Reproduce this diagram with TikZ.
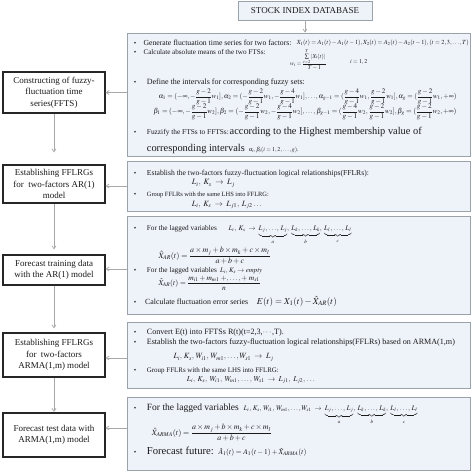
\documentclass[tikz,border=0pt]{standalone}
\usepackage{mathptmx}
\usepackage{amsmath}
\usepackage{fontspec}
\setmainfont{Liberation Serif}
\usepackage{graphicx}
\usetikzlibrary{arrows.meta}
\definecolor{rfill}{HTML}{EEF2F9}
\definecolor{rdraw}{HTML}{9AA2AC}
\definecolor{txtc}{HTML}{1A1A1A}
\definecolor{arrc}{HTML}{A8A8A8}
\newcommand\fitw[2]{\resizebox{#1pt}{!}{#2}}
\newcommand\mfs[2]{{\fontsize{#1}{#1}\selectfont$#2$}}
\tikzset{
  rbox/.style={draw=rdraw, fill=rfill, line width=0.8pt, inner sep=0pt},
  lbox/.style={draw=black!85, fill=white, line width=1.1pt, inner sep=1pt, minimum width=102pt,
     align=center, font=\fontsize{9}{11.3}\selectfont, text=txtc},
  dbbox/.style={draw=rdraw, fill=rfill, line width=0.8pt, minimum width=134pt, minimum height=19pt,
     font=\fontsize{9}{10}\selectfont, text=txtc},
  tx/.style={anchor=base west, inner sep=0pt, font=\fontsize{7}{8}\selectfont, text=txtc},
  mx/.style={anchor=west, inner sep=0pt, text=txtc},
  mb/.style={anchor=base west, inner sep=0pt, text=txtc},
  bu/.style={anchor=base, inner sep=0pt, font=\fontsize{7}{8}\selectfont, text=txtc},
  arr/.style={draw=arrc, line width=0.7pt, -{Straight Barb[length=3pt,width=4pt]}}
}
\begin{document}
\begin{tikzpicture}[x=1pt,y=-1pt]
\useasboundingbox (0,0) rectangle (474,474);
% top database box
\node[dbbox] (db) at (305,10.5) {STOCK INDEX DATABASE};
% right boxes
\node[rbox, minimum width=343pt, minimum height=123pt] (r1) at (298.5,94.5) {};
\node[rbox, minimum width=343pt, minimum height=50pt] (r2) at (298.5,186) {};
\node[rbox, minimum width=343pt, minimum height=98pt] (r3) at (298.5,265) {};
\node[rbox, minimum width=343pt, minimum height=66pt] (r4) at (298.5,355) {};
\node[rbox, minimum width=343pt, minimum height=73pt] (r5) at (298.5,433.5) {};
% left boxes
\node[lbox, minimum height=41pt] (l1) at (54,92.5) {Constructing of fuzzy-\\fluctuation time\\series(FFTS)};
\node[lbox, minimum height=38pt] (l2) at (54,184) {Establishing FFLRGs\\for\ \ two-factors AR(1)\\model};
\node[lbox, minimum height=30pt] (l3) at (54,270) {Forecast training data\\with the AR(1) model};
\node[lbox, minimum height=44pt] (l4) at (54,355) {Establishing FFLRGs\\for\ \ two-factors\\ARMA(1,m) model};
\node[lbox, minimum height=44pt] (l5) at (54,435) {Forecast test data with\\ARMA(1,m) model};
% connectors
\draw[arr] (db.south) -- (r1.north -| db.south);
\draw[arr] (r1.west |- l1.east) -- (l1.east);
\draw[arr] ([yshift=-2pt]r2.west |- l2.east) -- ([yshift=-2pt]l2.east);
\draw[arr] ([yshift=1pt]r3.west |- l3.east) -- ([yshift=1pt]l3.east);
\draw[arr] ([yshift=-3pt]r4.west |- l4.east) -- ([yshift=-3pt]l4.east);
\draw[arr] ([yshift=7pt]r5.west |- l5.east) -- ([yshift=7pt]l5.east);
\draw[arr, shorten >=12pt] (l1.south) -- (l2.north);
\draw[arr, shorten >=5pt] (l2.south) -- (l3.north);
\draw[arr, shorten >=4pt] (l3.south) -- (l4.north);
\draw[arr, shorten >=0.5pt] (l4.south) -- (l5.north);
% ---- box 1 ----
\node[bu] (b11) at (135,45.3) {\textbullet};
\node[tx] (t11) at (143.3,45.3) {\fitw{148}{Generate fluctuation time series for two factors:}};
\node[mx] (f11) at (296.7,43) {\fitw{172}{$X_1(t)=A_1(t)-A_1(t-1),X_2(t)=A_2(t)-A_2(t-1),(t=2,3,\ldots,T)$}};
\node[bu] (b12) at (135,54.3) {\textbullet};
\node[tx] (t12) at (143.3,54.3) {\fitw{122}{Calculate absolute means of the two FTSs:}};
\node[mx] (f12) at (290,60) {\fitw{36}{$w_i=\dfrac{\sum\limits_{t=2}^{T}|X_i(t)|}{T-1}$}};
\node[mx] (f13) at (350,62) {\fitw{17}{$i=1,2$}};
\node[bu] (b13) at (135,84.3) {\textbullet};
\node[tx] (t13) at (146.7,84.3) {\fitw{158}{Define the intervals for corresponding fuzzy sets:}};
\node[mx] (f14) at (158.3,97) {\fitw{298}{$\alpha_1=(-\infty,-\dfrac{g-2}{g-1}w_1],\alpha_2=(-\dfrac{g-2}{g-1}w_1,-\dfrac{g-4}{g-1}w_1],\ldots,\alpha_{g-1}=(\dfrac{g-4}{g-1}w_1,\dfrac{g-2}{g-1}w_1],\alpha_g=(\dfrac{g-2}{g-1}w_1,+\infty)$}};
\node[mx] (f15) at (153.3,112) {\fitw{303}{$\beta_1=(-\infty,-\dfrac{g-2}{g-1}w_2],\beta_2=(-\dfrac{g-2}{g-1}w_2,-\dfrac{g-4}{g-1}w_2],\ldots,\beta_{g-1}=(\dfrac{g-4}{g-1}w_2,\dfrac{g-2}{g-1}w_2],\beta_g=(\dfrac{g-2}{g-1}w_2,+\infty)$}};
\node[bu] (b14) at (135,134.5) {\textbullet};
\node[tx] (t14) at (146.7,134.5) {\fitw{82}{Fuzzify the FTSs to FFTSs:}};
\node[tx] (t15) at (229.5,134.5) {\fitw{192}{according to the Highest membership value of}};
\node[tx] (t16) at (146.7,151.5) {\fitw{98}{corresponding intervals}};
\node[mb] (f16) at (248.5,151.5) {\fitw{50}{$\alpha_i,\beta_i(i=1,2,\ldots,g)$.}};
% ---- box 2 ----
\node[bu] (b21) at (135,175.3) {\textbullet};
\node[tx] (t21) at (146.7,175.3) {\fitw{222}{Establish the two-factors fuzzy-fluctuation logical relationships(FFLRs):}};
\node[mx] (f21) at (191.7,183.5) {\fitw{43}{$L_i,\;K_s\;\rightarrow\;L_j$}};
\node[bu] (b22) at (135,196.5) {\textbullet};
\node[tx] (t22) at (146.7,196.5) {\fitw{122}{Group FFLRs with the same LHS into FFLRG:}};
\node[mx] (f22) at (191.7,205) {\fitw{70}{$L_i,\;K_s\;\rightarrow\;L_{j1},\;L_{j2}\ldots$}};
% ---- box 3 ----
\node[bu] (b31) at (135,230.5) {\textbullet};
\node[tx] (t31) at (146.7,230.5) {\fitw{70}{For the lagged variables}};
\node[mb] (f31) at (228.3,230.5) {\mfs{7}{L_i,\;K_s\;\rightarrow\;\underbrace{L_j,\,\ldots,\,L_j}_{a},\;\underbrace{L_k,\,\ldots,\,L_k}_{b},\;\underbrace{L_l,\,\ldots,\,L_l}_{c}}};
\node[mx] (f32) at (158.3,256) {\fitw{112}{$\hat{X}_{AR}(t)=\dfrac{a\times m_j+b\times m_k+c\times m_l}{a+b+c}$}};
\node[bu] (b32) at (135,272.3) {\textbullet};
\node[tx] (t32) at (146.7,272.3) {\fitw{70}{For the lagged variables}};
\node[mb] (f33) at (220,272.3) {\fitw{42}{$L_i,\,K_s\rightarrow \mathit{empty}$}};
\node[mx] (f34) at (158.3,283) {\fitw{102}{$\hat{X}_{AR}(t)=\dfrac{m_{i1}+m_{m1}\;+,\ldots,+\;m_{s1}}{n}$}};
\node[bu] (b33) at (135,304.3) {\textbullet};
\node[tx] (t33) at (145,304.3) {\fitw{103}{Calculate fluctuation error series}};
\node[mb] (f35) at (256.7,304.3) {\fitw{80}{$E(t)=X_1(t)-\hat{X}_{AR}(t)$}};
% ---- box 4 ----
\node[bu] (b41) at (135,334.3) {\textbullet};
\node[tx] (t41) at (146.7,334.3) {\fitw{137}{Convert E(t) into FFTSs R(t)(t=2,3,$\cdots$,T).}};
\node[bu] (b42) at (135,344.5) {\textbullet};
\node[tx] (t42) at (146.7,344.5) {\fitw{308}{Establish the two-factors fuzzy-fluctuation logical relationships(FFLRs) based on ARMA(1,m)}};
\node[mx] (f41) at (173.3,357.5) {\fitw{100}{$L_i,\,K_s,\,W_{i1},\,W_{m1},\ldots,W_{s1}\;\rightarrow\;L_j$}};
\node[bu] (b43) at (135,372.3) {\textbullet};
\node[tx] (t43) at (146.7,372.3) {\fitw{132}{Group FFLRs with the same LHS into FFLRG:}};
\node[mx] (f42) at (186.7,380) {\mfs{7.5}{L_i,\;K_s,\;W_{i1},\;W_{m1},\,\ldots,\,W_{s1}\;\rightarrow\;L_{j1},\;L_{j2},\,\ldots}};
% ---- box 5 ----
\node[bu] (b51) at (135,410.8) {\textbullet};
\node[tx] (t51) at (146.7,410.8) {\fitw{92}{For the lagged variables}};
\node[mb] (f51) at (243.3,410.8) {\mfs{7}{L_i,\,K_s,\,W_{i1},\,W_{m1},\ldots,W_{s1}\;\rightarrow\;\underbrace{L_j,\,\ldots,\,L_j}_{a},\;\underbrace{L_k,\,\ldots,\,L_k}_{b},\;\underbrace{L_l,\,\ldots,\,L_l}_{c}}};
\node[mx] (f52) at (151.7,433) {\fitw{120}{$\hat{X}_{ARMA}(t)=\dfrac{a\times m_j+b\times m_k+c\times m_l}{a+b+c}$}};
\node[bu] (b52) at (135,454.8) {\textbullet};
\node[tx] (t52) at (146.7,454.8) {\fitw{67}{Forecast future:}};
\node[mb] (f53) at (218.3,454.8) {\fitw{88}{$\hat{A}_1(t)=A_1(t-1)+\hat{X}_{ARMA}(t)$}};
\end{tikzpicture}
\end{document}
